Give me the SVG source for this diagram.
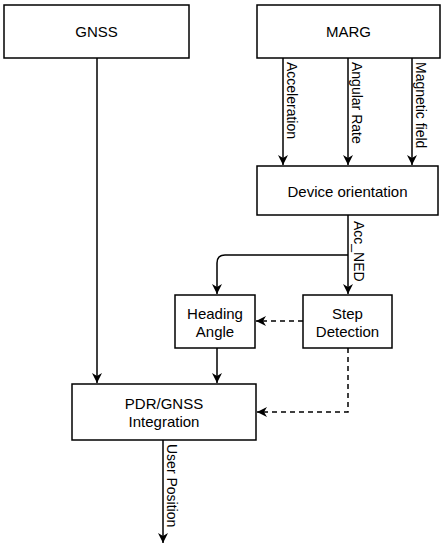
<svg xmlns="http://www.w3.org/2000/svg" width="445" height="550" viewBox="0 0 445 550">
<style>
.box{fill:#fff;stroke:#000;stroke-width:1.5}
.t{font-family:"Liberation Sans",Arial,sans-serif;font-size:15px;fill:#000;text-anchor:middle}
.lbl{font-family:"Liberation Sans",Arial,sans-serif;font-size:14px;fill:#000}
.c{fill:none;stroke:#000;stroke-width:1.5}
.d{stroke-dasharray:5 4}
</style>
<defs>
<marker id="ah" markerWidth="12" markerHeight="10" refX="10" refY="5" orient="auto" markerUnits="userSpaceOnUse">
<path d="M0,0 L10,5 L0,10 L3,5 Z" fill="#000"/>
</marker>
</defs>
<g id="connectors">
<path class="c" d="M97,58 V383" marker-end="url(#ah)"/>
<path class="c" d="M283,58 V165" marker-end="url(#ah)"/>
<path class="c" d="M348,58 V165" marker-end="url(#ah)"/>
<path class="c" d="M412,58 V165" marker-end="url(#ah)"/>
<path class="c" d="M348,215 V294" marker-end="url(#ah)"/>
<path class="c" d="M348,255 H225 Q217,255 217,263 V294" marker-end="url(#ah)"/>
<path class="c d" d="M303,321 H256" marker-end="url(#ah)"/>
<path class="c" d="M217,348 V383" marker-end="url(#ah)"/>
<path class="c d" d="M348,348 V412 H257" marker-end="url(#ah)"/>
<path class="c" d="M163,440 V543" marker-end="url(#ah)"/>
<text class="lbl" transform="translate(287,62) rotate(90)">Acceleration</text>
<text class="lbl" transform="translate(352,62) rotate(90)">Angular Rate</text>
<text class="lbl" transform="translate(416,62) rotate(90)">Magnetic field</text>
<text class="lbl" transform="translate(354,221) rotate(90)">Acc_NED</text>
<text class="lbl" transform="translate(167,444) rotate(90)">User Position</text>
</g>
<g id="gnss"><rect class="box" x="4" y="5" width="185" height="53"/><text class="t" x="96.5" y="37">GNSS</text></g>
<g id="marg"><rect class="box" x="257" y="5" width="183" height="53"/><text class="t" x="348.5" y="37">MARG</text></g>
<g id="device"><rect class="box" x="257" y="166" width="181" height="49"/><text class="t" x="347.5" y="197">Device orientation</text></g>
<g id="heading"><rect class="box" x="175" y="295" width="80" height="53"/><text class="t" x="215" y="318.5">Heading</text><text class="t" x="215" y="336.5">Angle</text></g>
<g id="step"><rect class="box" x="303" y="295" width="89" height="53"/><text class="t" x="347.5" y="318.5">Step</text><text class="t" x="347.5" y="336.5">Detection</text></g>
<g id="pdr"><rect class="box" x="72" y="384" width="184" height="56"/><text class="t" x="164" y="408.5">PDR/GNSS</text><text class="t" x="164" y="427">Integration</text></g>
</svg>
